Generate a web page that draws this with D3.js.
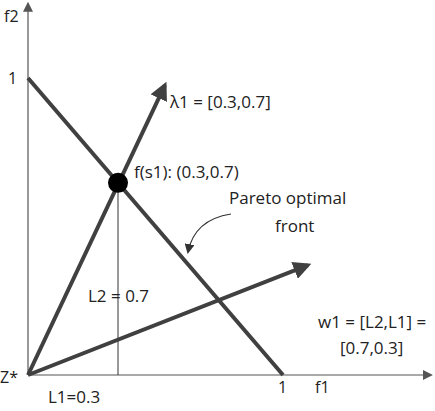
<!DOCTYPE html>
<html><head><meta charset="utf-8">
<script src="https://cdn.jsdelivr.net/npm/d3@7"></script>
<style>body{margin:0;background:#fff}text{font-family:"Open Sans",sans-serif;fill:#222}</style>
</head><body><div id="chart"></div>
<script>
// data (in objective space)
const front = [[0, 1], [1, 0]];
const sPoint = [0.353, 0.647];
const lambdaEnd = [0.537, 0.976];
const wEnd = [1.098, 0.370];
const axisMax = [1.58, 1.25];

const width = 435, height = 411;
const svg = d3.select("#chart").append("svg").attr("width", width).attr("height", height);

const x = d3.scaleLinear().domain([0, 1]).range([28, 283]);
const y = d3.scaleLinear().domain([0, 1]).range([375, 78]);

const defs = svg.append("defs");
function marker(id, size, color) {
  defs.append("marker").attr("id", id).attr("viewBox", "0 0 10 10")
    .attr("refX", 8).attr("refY", 5).attr("markerWidth", size).attr("markerHeight", size)
    .attr("markerUnits", "userSpaceOnUse").attr("orient", "auto")
    .append("path").attr("d", "M0,0L10,5L0,10z").attr("fill", color);
}
marker("thin", 10, "#555");
marker("thick", 18, "#404040");
marker("curve", 10, "#333");

// axes
svg.append("line").attr("x1", x(0)).attr("y1", y(0)).attr("x2", x(axisMax[0])).attr("y2", y(0))
  .attr("stroke", "#555").attr("stroke-width", 1.2).attr("marker-end", "url(#thin)");
svg.append("line").attr("x1", x(0)).attr("y1", y(0)).attr("x2", x(0)).attr("y2", y(axisMax[1]))
  .attr("stroke", "#555").attr("stroke-width", 1.2).attr("marker-end", "url(#thin)");

// vertical guide
svg.append("line").attr("x1", x(sPoint[0])).attr("y1", y(sPoint[1])).attr("x2", x(sPoint[0])).attr("y2", y(0))
  .attr("stroke", "#333").attr("stroke-width", 1);

const line = d3.line().x(d => x(d[0])).y(d => y(d[1]));
svg.append("path").attr("d", line(front)).attr("stroke", "#404040").attr("stroke-width", 4).attr("fill", "none");
svg.append("path").attr("d", line([[0, 0], lambdaEnd])).attr("stroke", "#404040").attr("stroke-width", 4)
  .attr("fill", "none").attr("marker-end", "url(#thick)");
svg.append("path").attr("d", line([[0, 0], wEnd])).attr("stroke", "#404040").attr("stroke-width", 4)
  .attr("fill", "none").attr("marker-end", "url(#thick)");

svg.append("circle").attr("cx", x(sPoint[0])).attr("cy", y(sPoint[1])).attr("r", 10).attr("fill", "#000");

// curved pointer to front
svg.append("path").attr("d", "M231,214 C205,218 192,232 188,252")
  .attr("stroke", "#333").attr("stroke-width", 1.2).attr("fill", "none").attr("marker-end", "url(#curve)");

const labels = [
  ["f2", 4, 22, 16], ["1", 8, 84, 16], ["λ1 =  [0.3,0.7]", 170, 108, 17],
  ["f(s1): (0.3,0.7)", 134, 178, 17], ["Pareto optimal", 229, 204, 17], ["front", 275, 232, 17],
  ["L2 = 0.7", 88, 302, 17], ["w1 = [L2,L1] =", 318, 328, 17], ["[0.7,0.3]", 340, 354, 17],
  ["Z*", 0, 383, 16], ["L1=0.3", 48, 403, 17], ["1", 278, 393, 16], ["f1", 315, 393, 16]
];
svg.selectAll(".lbl").data(labels).join("text").attr("class", "lbl")
  .attr("x", d => d[1]).attr("y", d => d[2]).attr("font-size", d => d[3]).text(d => d[0]);
</script></body></html>
